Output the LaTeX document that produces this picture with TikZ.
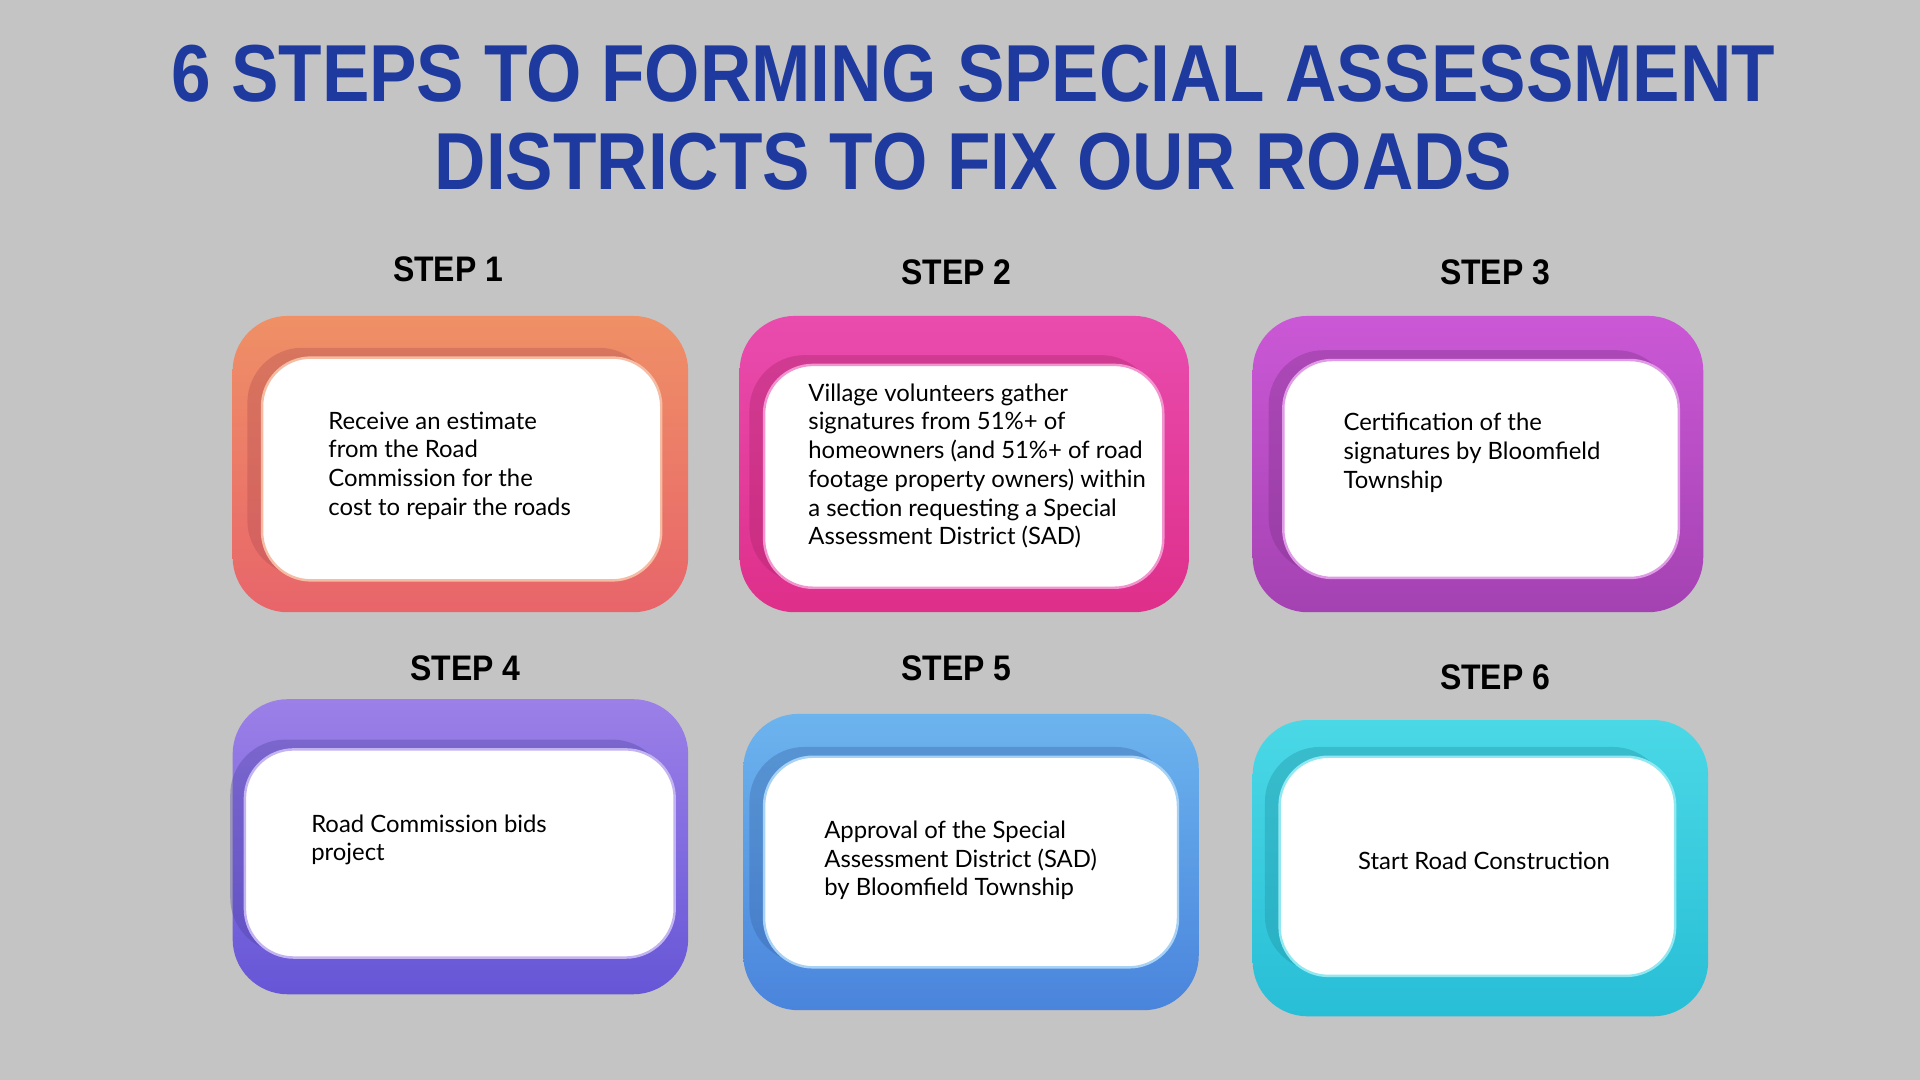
\documentclass[tikz,border=0pt]{standalone}
\usepackage{fontspec}
\setmainfont{Lato}
\newfontfamily\titlefont{Liberation Sans}
\definecolor{bg}{HTML}{C4C4C4}
\definecolor{ttl}{HTML}{1F3A9E}
\tikzset{
 outer/.style={rounded corners=45pt},
 inner/.style={fill=white,rounded corners=40pt,line width=2pt},
 txt/.style={anchor=north west,align=left,font=\fontsize{19.5}{23.5}\selectfont,inner sep=0pt},
 steplbl/.style={font=\titlefont\bfseries\fontsize{29}{30}\selectfont,xscale=0.9,transform shape},
}
\newcommand\stepbox[9]{%
 \shade[outer,top color=\topc,bottom color=\botc] (#2,#3) rectangle (#4,#5);
 \fill[outer,\botc!75!black,opacity=0.35] (#6-12,#7-8) rectangle (#8-6,#9-4);
 \draw[inner,draw=\topc!60!white] (#6,#7) rectangle (#8,#9);
 \coordinate (#1) at (#6,#7);
}
\begin{document}
\begin{tikzpicture}[x=1pt,y=-1pt]
\fill[bg] (0,0) rectangle (1568,882);
\node[text=ttl,font=\titlefont\bfseries\fontsize{66}{72}\selectfont,align=center,xscale=0.88,transform shape] (title) at (795,96) {6 STEPS TO FORMING SPECIAL ASSESSMENT\\DISTRICTS TO FIX OUR ROADS};
\node[steplbl] (s1) at (366,220) {STEP 1};
\node[steplbl] (s2) at (781,222) {STEP 2};
\node[steplbl] (s3) at (1221,222) {STEP 3};
\node[steplbl] (s4) at (380,546) {STEP 4};
\node[steplbl] (s5) at (781,546) {STEP 5};
\node[steplbl] (s6) at (1221,553) {STEP 6};
\definecolor{c1t}{HTML}{EF9066}\definecolor{c1b}{HTML}{E8656A}
\def\topc{c1t}\def\botc{c1b}
\stepbox{b1}{190}{258}{562}{500}{214}{292}{540}{474}
\definecolor{c2t}{HTML}{E94CAE}\definecolor{c2b}{HTML}{DE2F8A}
\def\topc{c2t}\def\botc{c2b}
\stepbox{b2}{604}{258}{971}{500}{624}{298}{950}{480}
\definecolor{c3t}{HTML}{CB58D6}\definecolor{c3b}{HTML}{A442B2}
\def\topc{c3t}\def\botc{c3b}
\stepbox{b3}{1023}{258}{1391}{500}{1048}{294}{1371}{472}
\definecolor{c4t}{HTML}{9C80E8}\definecolor{c4b}{HTML}{6656D6}
\def\topc{c4t}\def\botc{c4b}
\stepbox{b4}{190}{571}{562}{812}{200}{612}{551}{782}
\definecolor{c5t}{HTML}{6CB4EE}\definecolor{c5b}{HTML}{4A84DC}
\def\topc{c5t}\def\botc{c5b}
\stepbox{b5}{607}{583}{979}{825}{624}{618}{962}{790}
\definecolor{c6t}{HTML}{4AD8E6}\definecolor{c6b}{HTML}{28BED6}
\def\topc{c6t}\def\botc{c6b}
\stepbox{b6}{1023}{588}{1395}{830}{1045}{618}{1368}{797}
\node[txt] (t1) at (268,336) {Receive an estimate\\from the Road\\Commission for the\\cost to repair the roads};
\node[txt] (t2) at (660,313) {Village volunteers gather\\signatures from 51\%+ of\\homeowners (and 51\%+ of road\\footage property owners) within\\a section requesting a Special\\Assessment District (SAD)};
\node[txt] (t3) at (1097,337) {Certification of the\\signatures by Bloomfield\\Township};
\node[txt] (t4) at (254,665) {Road Commission bids\\project};
\node[txt] (t5) at (673,670) {Approval of the Special\\Assessment District (SAD)\\by Bloomfield Township};
\node[font=\fontsize{19.5}{23.5}\selectfont] (t6) at (1212,703) {Start Road Construction};
\end{tikzpicture}
\end{document}
